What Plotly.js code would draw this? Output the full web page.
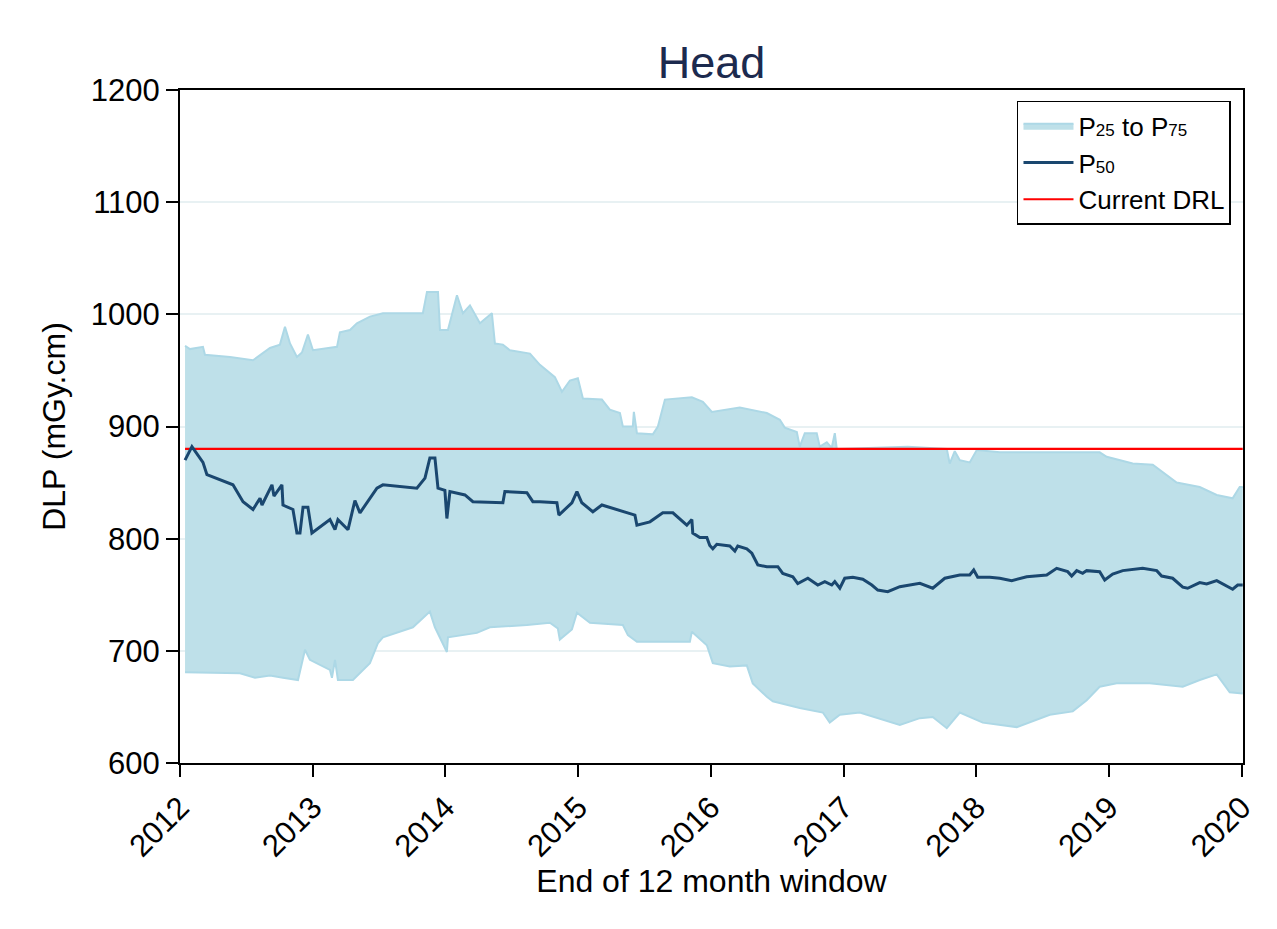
<!DOCTYPE html>
<html>
<head>
<meta charset="utf-8">
<script src="https://cdn.plot.ly/plotly-3.0.1.min.js"></script>
<style>
  body { margin: 0; background: #fff; }
  #graph { width: 1277px; height: 929px; }
</style>
</head>
<body>
<div id="graph"></div>
<script>
// end of 12 month window, decimal years
var upperX = [2012.038, 2012.075, 2012.173, 2012.188, 2012.377, 2012.550, 2012.678, 2012.753, 2012.791, 2012.829,
  2012.881, 2012.919, 2012.964, 2013.002, 2013.183, 2013.205, 2013.281, 2013.333, 2013.431, 2013.529,
  2013.830, 2013.861, 2013.944, 2013.959, 2014.019, 2014.087, 2014.132, 2014.185, 2014.260, 2014.350,
  2014.373, 2014.433, 2014.486, 2014.637, 2014.712, 2014.825, 2014.878, 2014.938, 2014.998, 2015.036,
  2015.179, 2015.239, 2015.315, 2015.337, 2015.412, 2015.420, 2015.443, 2015.563, 2015.601, 2015.654,
  2015.857, 2015.940, 2016.008, 2016.218, 2016.422, 2016.520, 2016.557, 2016.648, 2016.670, 2016.708,
  2016.798, 2016.821, 2016.874, 2016.911, 2016.934, 2016.949, 2017.484, 2017.778, 2017.800, 2017.838,
  2017.876, 2017.951, 2018.004, 2018.177, 2018.930, 2018.983, 2019.179, 2019.330, 2019.510, 2019.684,
  2019.812, 2019.932, 2019.985, 2020.008];
var p75 = [972, 969, 971, 964, 962, 959, 970, 973, 989, 974,
  962, 966, 982, 968, 971, 984, 986, 992, 998, 1001,
  1001, 1020, 1020, 986, 986, 1017, 1001, 1008, 992, 1001,
  974, 973, 968, 965, 955, 944, 931, 941, 943, 925,
  924, 915, 912, 900, 900, 913, 894, 893, 900, 924,
  926, 922, 913, 917, 912, 906, 899, 895, 882, 894,
  894, 882, 886, 881, 894, 880, 882, 880, 867, 878,
  870, 868, 879, 877, 877, 873, 867, 866, 850, 846,
  839, 836, 846, 846];

var lowerX = [2012.038, 2012.452, 2012.565, 2012.678, 2012.776, 2012.889, 2012.942, 2012.979, 2013.130, 2013.145,
  2013.168, 2013.190, 2013.303, 2013.431, 2013.492, 2013.529, 2013.755, 2013.883, 2013.921, 2014.011,
  2014.019, 2014.237, 2014.335, 2014.614, 2014.787, 2014.847, 2014.862, 2014.953, 2014.991, 2015.089,
  2015.337, 2015.375, 2015.443, 2015.842, 2015.857, 2015.970, 2016.015, 2016.143, 2016.271, 2016.316,
  2016.422, 2016.467, 2016.670, 2016.844, 2016.896, 2016.972, 2017.122, 2017.424, 2017.575, 2017.672,
  2017.778, 2017.876, 2018.049, 2018.305, 2018.554, 2018.727, 2018.832, 2018.930, 2019.058, 2019.307,
  2019.556, 2019.684, 2019.812, 2019.910, 2020.008];
var p25 = [681, 680, 676, 678, 676, 674, 701, 692, 683, 676,
  692, 674, 674, 689, 707, 712, 721, 735, 721, 699,
  712, 716, 721, 723, 725, 720, 710, 719, 734, 725,
  723, 714, 708, 708, 717, 705, 689, 686, 687, 671,
  659, 655, 649, 645, 636, 643, 645, 634, 640, 641,
  631, 645, 636, 632, 643, 646, 656, 668, 671, 671,
  668, 674, 679, 663, 662];

var medianX = [2012.038, 2012.090, 2012.173, 2012.203, 2012.399, 2012.475, 2012.550, 2012.603, 2012.618, 2012.693,
  2012.708, 2012.753, 2012.768, 2012.776, 2012.851, 2012.881, 2012.904, 2012.927, 2012.964, 2012.994,
  2013.130, 2013.168, 2013.190, 2013.266, 2013.318, 2013.356, 2013.484, 2013.529, 2013.785, 2013.846,
  2013.883, 2013.921, 2013.944, 2013.996, 2014.011, 2014.034, 2014.147, 2014.207, 2014.433, 2014.448,
  2014.614, 2014.659, 2014.712, 2014.840, 2014.855, 2014.953, 2014.991, 2015.028, 2015.111, 2015.179,
  2015.292, 2015.428, 2015.443, 2015.541, 2015.638, 2015.714, 2015.819, 2015.857, 2015.864, 2015.917,
  2015.970, 2015.992, 2016.015, 2016.045, 2016.143, 2016.181, 2016.203, 2016.271, 2016.309, 2016.354,
  2016.422, 2016.505, 2016.542, 2016.618, 2016.655, 2016.731, 2016.806, 2016.859, 2016.911, 2016.934,
  2016.972, 2017.009, 2017.070, 2017.145, 2017.213, 2017.258, 2017.333, 2017.424, 2017.575, 2017.672,
  2017.763, 2017.876, 2017.951, 2017.981, 2018.011, 2018.102, 2018.177, 2018.267, 2018.380, 2018.531,
  2018.606, 2018.689, 2018.719, 2018.757, 2018.802, 2018.832, 2018.930, 2018.968, 2019.028, 2019.104,
  2019.254, 2019.360, 2019.397, 2019.480, 2019.556, 2019.593, 2019.684, 2019.736, 2019.812, 2019.887,
  2019.932, 2019.970, 2020.008];
var p50 = [870, 882, 868, 857, 848, 833, 826, 836, 830, 848,
  838, 845, 848, 830, 826, 805, 805, 828, 828, 805,
  817, 808, 817, 808, 834, 823, 845, 848, 845, 854,
  872, 872, 845, 843, 818, 842, 839, 833, 832, 842,
  841, 833, 833, 832, 821, 832, 842, 832, 824, 830,
  826, 821, 812, 815, 823, 823, 812, 817, 805, 801,
  801, 794, 791, 795, 793.5, 789, 793.5, 791, 787, 776.5,
  775, 775, 769, 766, 760, 764.7, 758.7, 761.7, 758.7, 761.7,
  755.8, 764.7, 765.6, 763.8, 758.7, 754.2, 752.7, 757.2, 760.2, 755.8,
  764.7, 767.6, 767.6, 772.1, 765.6, 765.6, 764.7, 762.6, 766.1, 767.6,
  773.6, 770.6, 766.7, 771.5, 769.1, 771.5, 770.6, 763.2, 768.5, 771.5,
  773.6, 771.5, 766.7, 764.7, 756.7, 755.8, 760.8, 759.6, 762.6, 757.8,
  754.9, 758.7, 758.7];

var drl = 880;
var yearTicks = [2012, 2013, 2014, 2015, 2016, 2017, 2018, 2019, 2020];

var font = "Liberation Sans, Arial, sans-serif";

var lower = {
    x: lowerX, y: p25,
    type: 'scatter', mode: 'lines',
    line: {color: 'rgb(173,216,230)', width: 2},
    showlegend: false,
    hoverinfo: 'skip'
};
var band = {
    x: upperX, y: p75,
    type: 'scatter', mode: 'lines',
    fill: 'tonexty',
    fillcolor: 'rgb(190,224,233)',
    line: {color: 'rgb(173,216,230)', width: 2},
    name: 'P<span style="font-size:17px">25</span> to P<span style="font-size:17px">75</span>',
    legendrank: 1
};
var drlLine = {
    x: [medianX[0], medianX[medianX.length - 1]],
    y: [drl, drl],
    type: 'scatter', mode: 'lines',
    line: {color: 'rgb(255,0,0)', width: 2.2},
    name: 'Current DRL',
    legendrank: 3
};
var median = {
    x: medianX, y: p50,
    type: 'scatter', mode: 'lines',
    line: {color: '#1a476f', width: 3},
    name: 'P<span style="font-size:17px">50</span>',
    legendrank: 2
};

var layout = {
    width: 1277, height: 929,
    margin: {l: 180, r: 34, t: 90, b: 166},
    paper_bgcolor: '#fff', plot_bgcolor: '#fff',
    font: {family: font, color: '#000', size: 31},
    title: {
        text: 'Head',
        font: {family: font, size: 45, color: '#1c2a4e'},
        x: 0.5, xref: 'paper', xanchor: 'center',
        y: 0.933, yref: 'container', yanchor: 'middle'
    },
    xaxis: {
        range: [2012, 2020.01],
        tickvals: yearTicks,
        ticktext: yearTicks.map(String),
        tickangle: -45,
        ticks: 'outside', ticklen: 12, tickwidth: 2, tickcolor: '#000',
        showline: true, linecolor: '#000', linewidth: 2, mirror: true,
        showgrid: false, zeroline: false,
        tickfont: {family: font, size: 31},
        title: {text: 'End of 12 month window', font: {family: font, size: 32}, standoff: 0}
    },
    yaxis: {
        range: [600, 1200],
        dtick: 100,
        ticks: 'outside', ticklen: 12, tickwidth: 2, tickcolor: '#000',
        showline: true, linecolor: '#000', linewidth: 2, mirror: true,
        showgrid: true, gridcolor: '#e8f1f3', gridwidth: 2,
        zeroline: false,
        tickfont: {family: font, size: 31},
        title: {text: 'DLP (mGy.cm)', font: {family: font, size: 32}, standoff: 16}
    },
    legend: {
        x: 0.9887, y: 0.984, xanchor: 'right', yanchor: 'top',
        traceorder: 'normal',
        itemwidth: 50,
        bgcolor: '#fff', bordercolor: '#000', borderwidth: 1.5,
        font: {family: font, size: 26, color: '#000'}
    },
    showlegend: true
};

Plotly.newPlot('graph', [lower, band, drlLine, median], layout, {displayModeBar: false, staticPlot: true});
</script>
</body>
</html>
